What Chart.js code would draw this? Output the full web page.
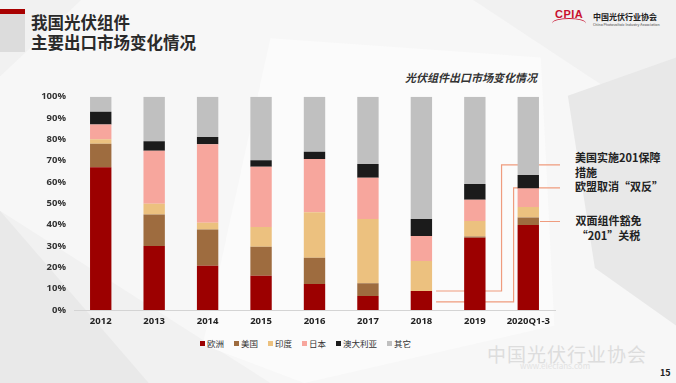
<!DOCTYPE html>
<html>
<head>
<meta charset="utf-8">
<script src="https://cdn.jsdelivr.net/npm/chart.js@4.4.1/dist/chart.umd.min.js"></script>
<style>
  html,body{margin:0;padding:0;}
  body{width:676px;height:383px;position:relative;overflow:hidden;background:#f1f1f1;font-family:"Noto Sans CJK SC","Noto Sans",sans-serif;color:#262626;}
  .bg{position:absolute;}
  #wrap{position:absolute;left:0;top:83px;width:560px;height:249px;}
  .abs{position:absolute;white-space:nowrap;}
  .title{left:31px;top:12px;font-size:16.5px;font-weight:bold;line-height:20px;color:#2a2a2a;}
  .sub{left:405px;top:69px;font-size:11px;font-weight:bold;font-style:italic;color:#333;}
  .ann{font-size:11px;font-weight:bold;line-height:14.5px;color:#222;}
  #legend{position:absolute;left:200px;top:337px;display:flex;align-items:center;font-size:8.5px;color:#333;}
  #legend .it{display:flex;align-items:center;margin-right:10px;}
  #legend .sq{width:5px;height:5px;margin-right:2px;}
</style>
</head>
<body>
<div class="bg" style="left:0;top:0;width:676px;height:383px;background:#f7f7f7;clip-path:polygon(12% 0,70% 0,100% 35%,100% 100%,40% 100%,0 55%,0 20%);"></div>
<div class="bg" style="left:0;top:0;width:676px;height:383px;background:#fbfbfb;clip-path:polygon(40% 10%,80% 15%,82% 85%,45% 100%,30% 90%);"></div>
<div class="bg" style="left:0;top:0;width:676px;height:383px;background:#e9e9e9;clip-path:polygon(0 55%,22% 100%,0 100%);"></div>
<div class="bg" style="left:0;top:0;width:676px;height:383px;background:#e8e8e8;clip-path:polygon(84% 25%,100% 15%,100% 85%,88% 70%);"></div>
<div class="bg" style="left:0;top:14px;width:25px;height:38px;background:#dcdcdc;"></div>
<div class="bg" style="left:0;top:9px;width:25px;height:5px;background:#a80000;"></div>

<div class="abs title">我国光伏组件<br>主要出口市场变化情况</div>

<div class="abs" style="left:555px;top:8px;font-size:11px;font-weight:bold;color:#c8102e;font-family:'Liberation Sans',sans-serif;letter-spacing:0.5px;">CPIA</div>
<div class="abs" style="left:552px;top:18px;width:34px;height:10px;border-top:1.5px solid #c8102e;border-radius:50% 50% 0 0;"></div>
<div class="abs" style="left:593px;top:11px;font-size:8px;font-weight:bold;color:#222;">中国光伏行业协会</div>
<div class="abs" style="left:593px;top:22px;font-size:3.6px;color:#444;">China Photovoltaic Industry Association</div>

<div class="abs sub">光伏组件出口市场变化情况</div>

<div id="wrap"><canvas id="c"></canvas></div>

<div class="abs ann" style="left:575px;top:150px;">美国实施201保障<br>措施</div>
<div class="abs ann" style="left:575px;top:179px;">欧盟取消“双反”</div>
<div class="abs ann" style="left:575px;top:213px;width:67px;text-align:center;">双面组件豁免<br>“201”关税</div>

<div id="legend"></div>

<div class="abs" style="left:487px;top:340px;font-size:19px;color:#dddddd;letter-spacing:1px;">中国光伏行业协会</div>
<div class="abs" style="left:520px;top:360px;font-size:8px;color:#e2e2e2;">www.elecfans.com</div>
<div class="abs" style="left:660px;top:366px;font-size:9px;font-weight:bold;color:#222;">15</div>

<script>
const categories = ['2012','2013','2014','2015','2016','2017','2018','2019','2020Q1-3'];
const seriesNames = ['欧洲','美国','印度','日本','澳大利亚','其它'];
const europe    = [66.9, 30.0, 20.8, 16.1, 12.2,  6.6,  8.9, 33.9, 39.8];
const usa       = [11.1, 14.8, 16.9, 13.6, 12.3,  5.9,  0.0,  0.5,  3.6];
const india     = [ 2.0,  5.0,  3.2,  9.2, 21.3, 30.2, 14.1,  7.3,  4.9];
const japan     = [ 7.0, 24.9, 36.8, 28.3, 25.0, 19.3, 11.7, 10.0,  8.7];
const australia = [ 6.0,  4.4,  3.4,  3.0,  3.4,  6.4,  8.0,  7.4,  6.3];
const others    = [ 7.0, 20.9, 18.9, 29.8, 25.8, 31.6, 57.3, 40.9, 36.7];
const yTicks    = [0,10,20,30,40,50,60,70,80,90,100];
const colors = ['#9c0000','#9e6c3f','#ecc17f','#f7a69d','#1b1b1b','#c0c0c0'];
const seriesValues = [europe, usa, india, japan, australia, others];

const lg = document.getElementById('legend');
seriesNames.forEach((n,i)=>{
  const it = document.createElement('div'); it.className='it';
  const sq = document.createElement('div'); sq.className='sq'; sq.style.background=colors[i];
  const t = document.createElement('span'); t.textContent=n;
  it.appendChild(sq); it.appendChild(t); lg.appendChild(it);
});

const connectors = {
  id:'connectors',
  beforeDatasetsDraw(chart){
    const {ctx, scales:{y}} = chart;
    const m = chart.getDatasetMeta(0);
    const b18 = m.data[6], b19 = m.data[7], b20 = m.data[8];
    const r18 = b18.x + b18.width/2;
    const r19 = b19.x + b19.width/2;
    const l20 = b20.x - b20.width/2;
    const r20 = b20.x + b20.width/2;
    const endX = r20 + 28;
    const midX = (r19 + l20)/2;
    ctx.save();
    ctx.strokeStyle = '#ef9c7e';
    ctx.lineWidth = 1.2;
    ctx.beginPath();
    ctx.moveTo(r18+4, y.getPixelForValue(8.9));
    ctx.lineTo(midX, y.getPixelForValue(8.9));
    ctx.lineTo(midX, y.getPixelForValue(68));
    ctx.lineTo(endX, y.getPixelForValue(68));
    ctx.moveTo(r18+4, y.getPixelForValue(3.8));
    ctx.lineTo(l20-4, y.getPixelForValue(3.8));
    ctx.lineTo(l20-4, y.getPixelForValue(57.3));
    ctx.lineTo(endX, y.getPixelForValue(57.3));
    ctx.moveTo(r20+1, y.getPixelForValue(41.5));
    ctx.lineTo(endX, y.getPixelForValue(41.5));
    ctx.stroke();
    ctx.restore();
  }
};

new Chart(document.getElementById('c'), {
  type:'bar',
  data:{
    labels:categories,
    datasets: seriesNames.map((n,i)=>({
      label:n, data:seriesValues[i], backgroundColor:colors[i],
      barPercentage:0.4, categoryPercentage:1.0, borderWidth:0
    }))
  },
  options:{
    responsive:true, maintainAspectRatio:false, animation:false,
    layout:{padding:{top:6,right:5,left:0,bottom:0}},
    plugins:{legend:{display:false}, tooltip:{enabled:false}},
    scales:{
      x:{
        stacked:true,
        grid:{display:false, drawTicks:false},
        border:{display:true, color:'#d4d4d4', width:1},
        ticks:{color:'#222', font:{size:9.5, weight:'bold', family:'"Open Sans", "Noto Sans", sans-serif'}, padding:6, maxRotation:0},
        afterFit(s){ s.height = 22; }
      },
      y:{
        stacked:true, min:0, max:100,
        grid:{display:false, drawTicks:false},
        border:{display:false},
        afterBuildTicks(s){ s.ticks = yTicks.map(v=>({value:v})); },
        ticks:{color:'#333', font:{size:9.5, weight:'bold', family:'"Open Sans", "Noto Sans", sans-serif'}, padding:8, callback:v=>v+'%'},
        afterFit(s){ s.width = 74; }
      }
    }
  },
  plugins:[connectors]
});
</script>
</body>
</html>
